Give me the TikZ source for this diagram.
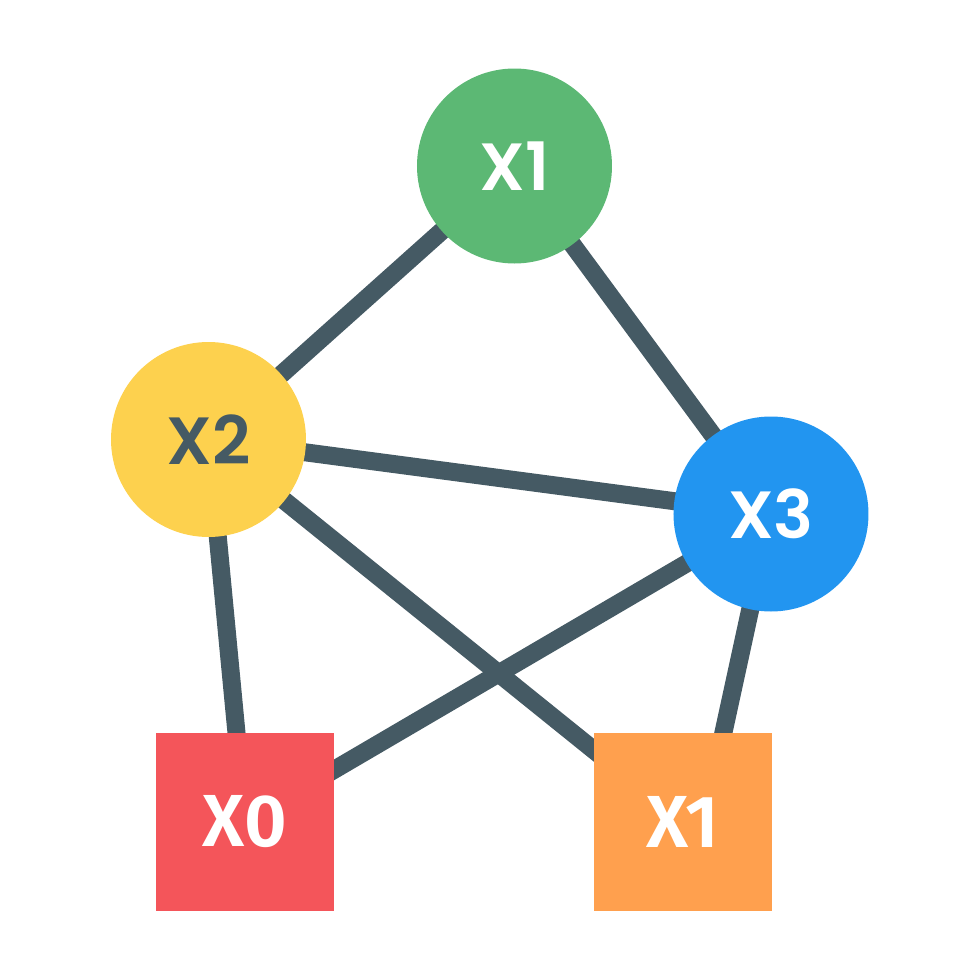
\documentclass[tikz,border=0pt]{standalone}
\usepackage{fontspec}
\setmainfont{Poppins}[BoldFont={Poppins SemiBold}]
\newfontfamily\boxfont{Fira Sans}[BoldFont={Fira Sans SemiBold}]
\usetikzlibrary{backgrounds}
\definecolor{linkgray}{HTML}{455A64}
\definecolor{hubgreen}{HTML}{5CB874}
\definecolor{hubyellow}{HTML}{FDD14E}
\definecolor{hubblue}{HTML}{2295F0}
\definecolor{leafred}{HTML}{F4555A}
\definecolor{leaforange}{HTML}{FFA04E}

\begin{document}
\begin{tikzpicture}[
  hub/.style={circle,minimum size=1.95cm,inner sep=0pt,text=white,font=\bfseries\fontsize{19}{19}\selectfont},
  leaf/.style={rectangle,minimum size=1.78cm,inner sep=0pt,text=white,font=\boxfont\bfseries\fontsize{21}{21}\selectfont},
  link/.style={linkgray,line width=0.18cm}]
\useasboundingbox (0,0) rectangle (9.8,9.8);
\node[hub,fill=hubgreen] (x1) at (5.145,8.14) {X1};
\node[hub,fill=hubyellow,text=linkgray] (x2) at (2.085,5.405) {X2};
\node[hub,fill=hubblue] (x3) at (7.71,4.66) {X3};
\node[leaf,fill=leafred] (x0) at (2.45,1.58) {X0};
\node[leaf,fill=leaforange] (y1) at (6.83,1.58) {X1};
\begin{scope}[on background layer]
\foreach \a/\b in {x1/x2,x1/x3,x2/x3,x2/x0,x2/y1,x3/x0}{\draw[link] (\a.center) -- (\b.center);}
\draw[link] (x3.center) -- ([xshift=0.21cm]y1.center);
\end{scope}
\end{tikzpicture}
\end{document}
